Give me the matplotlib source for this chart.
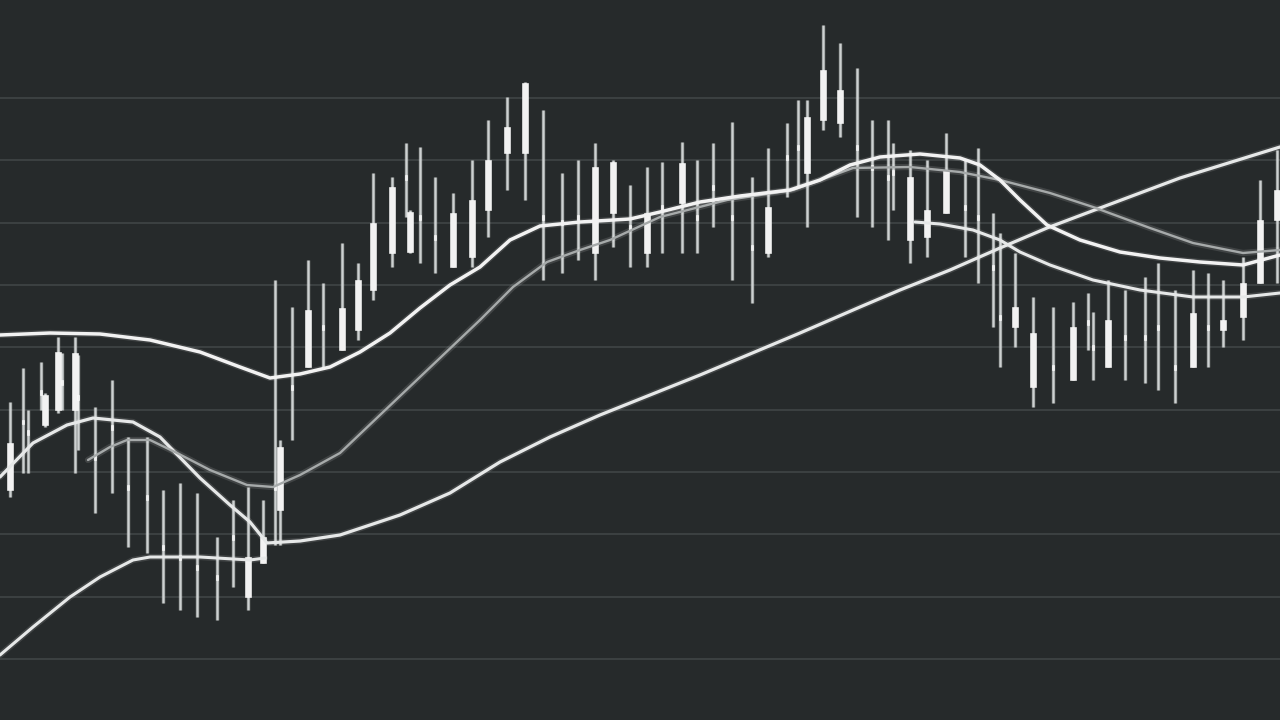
import matplotlib
matplotlib.use("Agg")
import matplotlib.pyplot as plt
import matplotlib.patheffects as pe
import numpy as np

# ---- candle data (time, open, high, low, close) ----
t = [10, 23, 28, 41, 45, 58, 62, 75, 78, 95, 112, 128, 147, 163, 180, 197, 217, 233, 248, 263,
     275, 280, 292, 308, 323, 342, 358, 373, 392, 406, 410, 420, 435, 453, 472, 488, 507, 525, 543, 562,
     578, 595, 613, 630, 647, 662, 682, 697, 713, 732, 752, 768, 787, 798, 807, 823, 840, 857, 872, 888,
     893, 910, 927, 946, 965, 978, 993, 1000, 1015, 1033, 1053, 1073, 1088, 1093, 1108, 1125, 1145, 1158, 1175, 1193,
     1208, 1223, 1243, 1260, 1277]
high = [318, 352, 310, 358, 327, 383, 367, 383, 365, 313, 340, 283, 283, 230, 237, 227, 183, 220, 233, 220,
        440, 280, 413, 460, 437, 477, 457, 547, 543, 577, 510, 573, 543, 527, 560, 600, 623, 638, 610, 547,
        560, 577, 560, 535, 553, 558, 578, 560, 577, 598, 543, 572, 597, 620, 620, 695, 677, 652, 600, 600,
        577, 570, 560, 587, 560, 572, 507, 487, 467, 423, 413, 418, 427, 408, 440, 430, 443, 457, 430, 450,
        447, 440, 463, 540, 570]
low = [223, 247, 247, 310, 293, 307, 310, 247, 270, 207, 227, 173, 167, 117, 110, 103, 100, 133, 110, 157,
       175, 175, 280, 353, 353, 370, 380, 420, 453, 503, 467, 457, 447, 453, 453, 483, 530, 520, 440, 447,
       460, 440, 473, 453, 453, 467, 467, 467, 493, 440, 417, 463, 523, 533, 493, 590, 583, 503, 493, 480,
       510, 457, 463, 507, 463, 437, 393, 353, 373, 313, 317, 340, 370, 340, 353, 340, 337, 330, 317, 353,
       353, 373, 380, 437, 437]
open_ = [230, 296, 285, 325, 295, 310, 335, 310, 320, 260, 290, 230, 220, 170, 160, 150, 140, 180, 123, 157,
         230, 210, 330, 353, 390, 370, 390, 430, 467, 540, 468, 500, 480, 453, 463, 510, 567, 567, 500, 495,
         500, 467, 507, 490, 467, 510, 517, 500, 530, 500, 470, 467, 560, 570, 547, 600, 597, 570, 550, 540,
         545, 480, 483, 507, 510, 500, 450, 400, 393, 333, 350, 340, 395, 370, 353, 380, 380, 390, 350, 353,
         390, 390, 403, 437, 500]
close = [277, 300, 290, 330, 325, 368, 340, 367, 325, 265, 295, 235, 225, 175, 165, 155, 145, 185, 163, 183,
         235, 273, 335, 410, 395, 412, 440, 497, 533, 545, 508, 505, 485, 507, 520, 560, 593, 637, 505, 500,
         505, 553, 558, 495, 507, 515, 557, 505, 535, 505, 475, 513, 565, 575, 603, 650, 630, 575, 555, 545,
         550, 543, 510, 550, 515, 505, 455, 405, 413, 387, 355, 393, 400, 375, 400, 385, 385, 395, 355, 407,
         395, 400, 437, 500, 530]

# ---- moving-average style curves (time, value) ----
ma1_t = [0, 50, 100, 150, 200, 240, 270, 300, 330, 360, 390, 420, 450, 480, 510, 540, 580, 630, 660,
         700, 740, 790, 820, 850, 880, 920, 960, 980, 1000, 1020, 1047, 1080, 1120, 1160, 1200, 1243, 1280]
ma1 = [385, 387, 386, 380, 368, 353, 342, 346, 353, 368, 387, 412, 435, 453, 480, 494, 498, 501, 508,
       518, 524, 530, 540, 555, 563, 566, 562, 555, 540, 520, 495, 480, 468, 462, 458, 455, 465]

ma2_t = [88, 110, 127, 150, 177, 210, 247, 273, 300, 340, 380, 420, 480, 513, 547, 580, 610, 660, 727,
         793, 853, 910, 960, 1000, 1050, 1093, 1150, 1193, 1243, 1280]
ma2 = [260, 273, 280, 280, 267, 250, 235, 233, 245, 267, 305, 343, 400, 433, 458, 470, 480, 503, 520,
       530, 552, 553, 548, 540, 527, 513, 492, 477, 467, 470]

ma3_t = [915, 940, 973, 1000, 1020, 1050, 1093, 1140, 1193, 1243, 1280]
ma3 = [498, 496, 490, 480, 468, 455, 440, 430, 423, 423, 427]

ma4_t = [0, 33, 67, 93, 133, 160, 200, 230, 250, 267, 300, 340, 400, 450, 500, 550, 600, 650, 700,
         750, 800, 860, 900, 950, 1000, 1047, 1100, 1180, 1280]
ma4 = [243, 277, 295, 302, 298, 283, 242, 215, 198, 177, 179, 185, 205, 227, 258, 283, 305, 325, 345,
       366, 387, 413, 430, 450, 472, 492, 512, 542, 573]

ma5_t = [0, 33, 70, 100, 133, 150, 200, 250, 265]
ma5 = [65, 93, 123, 143, 160, 163, 163, 160, 162]

grid_levels = [61, 123, 186, 248, 310, 373, 435, 497, 560, 622]

BG = '#262a2b'
fig = plt.figure(figsize=(12.8, 7.2), dpi=100)
fig.patch.set_facecolor(BG)
ax = fig.add_axes([0, 0, 1, 1])
ax.set_facecolor(BG)
ax.set_xlim(0, 1280)
ax.set_ylim(0, 720)

for g in grid_levels:
    ax.axhline(g, color='#3c4142', lw=1.4, zorder=0)

glow = [pe.Stroke(linewidth=4.5, foreground='#ffffff', alpha=0.12), pe.Normal()]

ax.vlines(t, low, high, color='#cdd1d1', lw=1.8, zorder=2,
          path_effects=[pe.Stroke(linewidth=3.5, foreground='#ffffff', alpha=0.1), pe.Normal()])
o = np.array(open_)
c = np.array(close)
bottoms = np.minimum(o, c)
heights = np.abs(c - o)
widths = np.where(heights >= 10, 5.5, 2.2)
ax.bar(t, heights, bottom=bottoms, width=widths, color='#f2f2f2', edgecolor='#ffffff',
       linewidth=0.4, zorder=3)

ax.plot(ma5_t, ma5, color='#e6e8e8', lw=2.2, zorder=4, solid_capstyle='round', path_effects=glow)
ax.plot(ma4_t, ma4, color='#e6e8e8', lw=2.3, zorder=4, solid_capstyle='round', path_effects=glow)
ax.plot(ma2_t, ma2, color='#a6aaaa', lw=1.7, zorder=4, solid_capstyle='round', path_effects=glow)
ax.plot(ma3_t, ma3, color='#e6e8e8', lw=2.2, zorder=4, solid_capstyle='round', path_effects=glow)
ax.plot(ma1_t, ma1, color='#f2f2f2', lw=2.5, zorder=5, solid_capstyle='round', path_effects=glow)

ax.axis('off')
fig.savefig('out.png', dpi=100, facecolor=BG)
